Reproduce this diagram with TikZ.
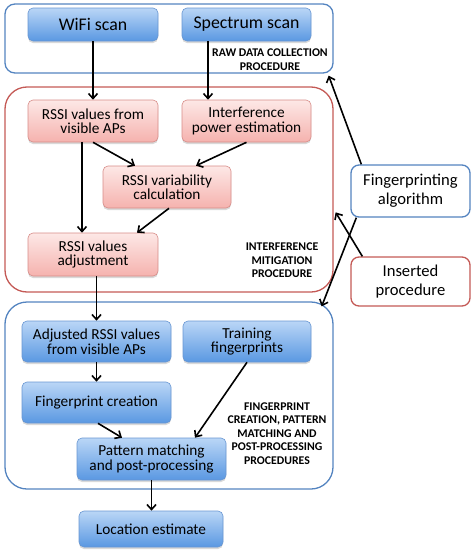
\documentclass[tikz,border=0pt]{standalone}
\usepackage{fontspec}
\setmainfont{Carlito}
\usetikzlibrary{arrows.meta,shadows}
\definecolor{bluetop}{RGB}{186,214,246}
\definecolor{bluebot}{RGB}{90,152,226}
\definecolor{blueedge}{RGB}{104,150,210}
\definecolor{redtop}{RGB}{253,232,230}
\definecolor{redbot}{RGB}{245,178,174}
\definecolor{rededge}{RGB}{215,140,136}
\definecolor{contblue}{RGB}{84,132,192}
\definecolor{contred}{RGB}{196,90,86}
\tikzset{
  box/.style={rounded corners=5pt, align=center, inner sep=0pt,
    font=\fontsize{15.3}{14.5}\selectfont, text=black,
    drop shadow={opacity=0.3, shadow xshift=0pt, shadow yshift=-2pt}},
  bigtext/.style={font=\fontsize{17.8}{18}\selectfont},
  bluebox/.style={box, draw=blueedge, line width=0.6pt, top color=bluetop, bottom color=bluebot},
  redbox/.style={box, draw=rededge, line width=0.6pt, top color=redtop, bottom color=redbot},
  sidebox/.style={rounded corners=8pt, align=center, inner sep=0pt, fill=white, line width=1.3pt,
    font=\fontsize{16.6}{19}\selectfont, text=black},
  cont/.style={line width=1.3pt, inner sep=0pt, fill=none},
  lbl/.style={align=center, font=\fontsize{11.8}{13.6}\selectfont\bfseries, text=black},
  arr/.style={line width=1.6pt, -{Straight Barb[length=5pt,width=9pt,line width=1.6pt]}},
}
\begin{document}
\begin{tikzpicture}[x=1pt,y=1pt]
\useasboundingbox (0,0) rectangle (474,-554);
% containers
\node[cont, draw=contblue, rounded corners=10pt, minimum width=328pt, minimum height=69pt] (top) at (169,-38.5) {};
\node[cont, draw=contred, rounded corners=22pt, minimum width=328pt, minimum height=205pt] (mid) at (169,-189.5) {};
\node[cont, draw=contblue, rounded corners=22pt, minimum width=328pt, minimum height=187pt] (bot) at (169,-395.5) {};
% labels
\node[lbl] (l1) at (270,-59.5) {RAW DATA COLLECTION\\PROCEDURE};
\node[lbl] (l2) at (282,-260.5) {INTERFERENCE\\MITIGATION\\PROCEDURE};
\node[lbl] (l3) at (277,-433.5) {FINGERPRINT\\CREATION, PATTERN\\MATCHING AND\\POST-PROCESSING\\PROCEDURES};
% boxes
\node[bluebox, bigtext, minimum width=130pt, minimum height=33pt] (wifi) at (93,-24.5) {WiFi scan};
\node[bluebox, bigtext, minimum width=129pt, minimum height=33pt] (spec) at (246.5,-24.5) {Spectrum scan};
\node[redbox, minimum width=130pt, minimum height=42pt] (rssi) at (93,-121) {RSSI values from\\visible APs};
\node[redbox, minimum width=129pt, minimum height=42pt] (intf) at (246.5,-121) {Interference\\power estimation};
\node[redbox, minimum width=128pt, minimum height=42pt] (var) at (167,-187) {RSSI variability\\calculation};
\node[redbox, minimum width=130pt, minimum height=43pt] (adj) at (93,-254.5) {RSSI values\\adjustment};
\node[bluebox, minimum width=149pt, minimum height=41pt] (adjr) at (96.5,-341.5) {Adjusted RSSI values\\from visible APs};
\node[bluebox, minimum width=128pt, minimum height=41pt] (train) at (247,-341.5) {Training\\fingerprints};
\node[bluebox, minimum width=149pt, minimum height=41pt] (fpc) at (96.5,-402.5) {Fingerprint creation};
\node[bluebox, minimum width=149pt, minimum height=42pt] (pm) at (151.5,-459) {Pattern matching\\and post-processing};
\node[bluebox, minimum width=144pt, minimum height=36pt] (loc) at (151,-529) {Location estimate};
\node[sidebox, draw=contblue, minimum width=119pt, minimum height=52pt] (fa) at (410.5,-191) {Fingerprinting\\algorithm};
\node[sidebox, draw=contred, minimum width=119pt, minimum height=49pt] (ins) at (410.5,-281.5) {Inserted\\procedure};
% connectors
\draw[arr] (wifi.south) -- (rssi.north);
\draw[arr] ([xshift=-38.5pt]spec.south) -- ([xshift=-38.5pt]intf.north);
\draw[arr] ([xshift=-11pt]rssi.south) -- ([xshift=-11pt]adj.north);
\draw[arr] (rssi.south) -- ([xshift=-32pt]var.north);
\draw[arr] (intf.south) -- ([xshift=29pt]var.north);
\draw[arr] ([xshift=2pt]var.south) -- ([xshift=44pt]adj.north);
\draw[arr] (adjr.north |- adj.south) -- (adjr.north);
\draw[arr] (adjr.south) -- (fpc.north);
\draw[arr] (train.south) -- ([xshift=43.5pt]pm.north);
\draw[arr] ([xshift=1.5pt]fpc.south) -- ([xshift=-29.5pt]pm.north);
\draw[arr] (pm.south) -- (loc.north -| pm.south);
\draw[arr] ([xshift=11pt]fa.north west) -- ([xshift=-5pt,yshift=-2pt]top.south east);
\draw[arr] ([xshift=6pt]fa.south west) -- ([xshift=-12pt,yshift=-5pt]bot.north east);
\draw[arr] ([xshift=12pt]ins.north west) -- ([xshift=2pt,yshift=-126pt]mid.north east);
\end{tikzpicture}
\end{document}
